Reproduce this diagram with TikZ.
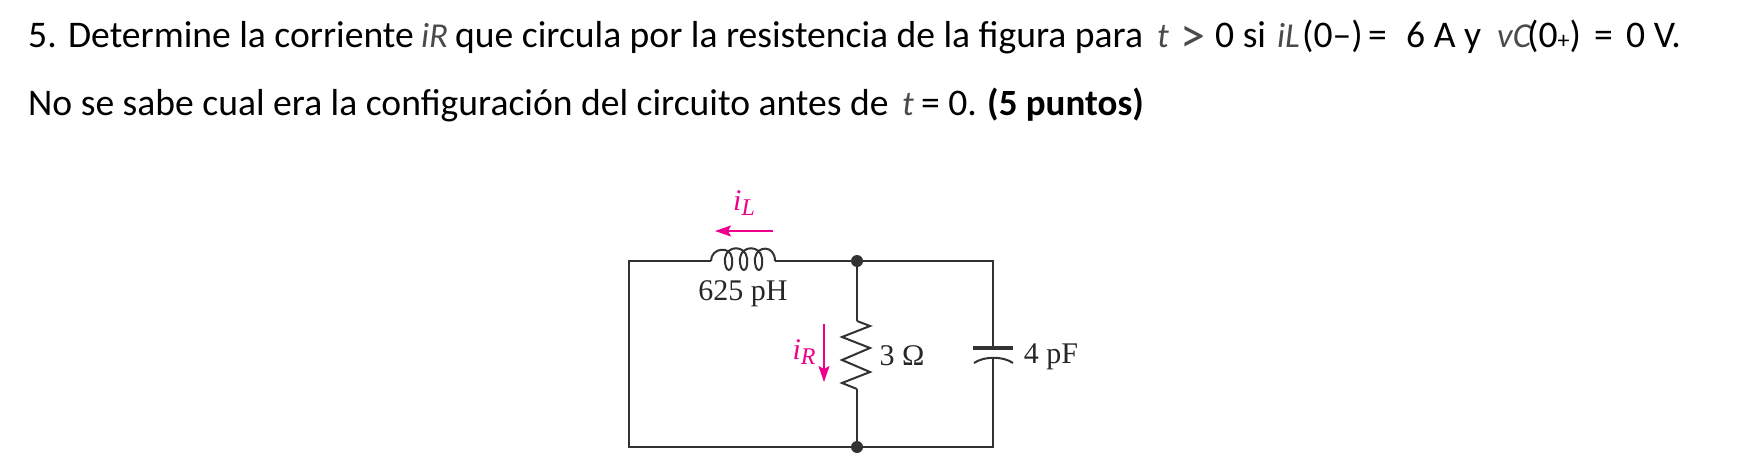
\documentclass[tikz,border=0pt]{standalone}
\usepackage{fontspec}
\setmainfont{Carlito}
\newfontfamily\bookfont{Liberation Serif}
\definecolor{pinkc}{RGB}{236,0,140}
\definecolor{wirec}{RGB}{50,50,50}
\definecolor{mathc}{RGB}{75,75,75}
\usetikzlibrary{arrows.meta}
\tikzset{
 x=1pt,y=-1pt,
 line1/.style={anchor=base west,inner sep=0pt,font=\fontsize{37.6}{40}\selectfont},
 line2/.style={anchor=base west,inner sep=0pt,font=\fontsize{37.6}{40}\selectfont},
 mathtxt/.style={anchor=base west,inner sep=0pt,text=mathc,font=\itshape\fontsize{35}{40}\selectfont},
 lab/.style={inner sep=0pt,font=\bookfont\fontsize{30}{32}\selectfont,text=black!85},
 cur/.style={inner sep=0pt,font=\bookfont\itshape\fontsize{30}{32}\selectfont,text=pinkc},
 wire/.style={draw=wirec,line width=2pt},
 carrow/.style={draw=pinkc,line width=1.6pt,-{Stealth[length=16pt,width=11pt,inset=3pt]}},
}
\begin{document}
\begin{tikzpicture}
\useasboundingbox (0,0) rectangle (1741,463);
\node[line1] (t1) at (28,47) {5. Determine la corriente};
\node[mathtxt] (ir) at (421,47) {iR};
\node[line1] (t1b) at (455,47) {que circula por la resistencia de la figura para};
\node[mathtxt] (t) at (1157,47) {t};
\node[mathtxt,font=\fontsize{50}{50}\selectfont] (gt) at (1180,52) {>};
\node[line1] (zs) at (1215,47) {0 si};
\node[mathtxt] (il) at (1277,47) {iL};
\node[line1] (t1c) at (1302,47) {(0–)};
\node[line1] (e1) at (1368,47) {=};
\node[line1] (t1e) at (1406,47) {6 A y};
\node[mathtxt] (vc) at (1497,47) {vC};
\node[line1] (t1d) at (1527,47) {(0\raisebox{-1pt}{\fontsize{24}{26}\selectfont +})};
\node[line1] (e2) at (1594,47) {=};
\node[line1] (t1f) at (1626,47) {0 V.};
\node[line2] (t2) at (28,115) {No se sabe cual era la configuración del circuito antes de};
\node[mathtxt] (t3) at (902,115) {t};
\node[line2] (t4) at (921,115) {= 0.};
\node[line2,font=\fontsize{37}{40}\selectfont] (t5) at (987,115) {\textbf{(5 puntos)}};

\coordinate (tl) at (629,261);
\coordinate (bl) at (629,447);
\coordinate (tr) at (993,261);
\coordinate (br) at (993,447);
\coordinate (la) at (711,261);
\coordinate (lb) at (775,261);
\coordinate (n1) at (857,261);
\coordinate (n2) at (857,447);
\coordinate (ra) at (857,321);
\coordinate (rb) at (857,389);
\coordinate (ca) at (993,347);
\coordinate (cb) at (993,358);
\draw[wire] (lb) -- (n1) -- (tr) -- (ca);
\draw[wire] (la) -- (tl) -- (bl) -- (n2) -- (br) -- (cb);
\draw[wire] (n1) -- (ra);
\draw[wire] (rb) -- (n2);
\draw[wire] (ra) -- (870,326) -- (842,337) -- (870,348) -- (842,360) -- (870,372) -- (842,383) -- (rb);
\draw[wire] (la) .. controls (711,248) and (730,245) .. (732,258) .. controls (734,274) and (724,274) .. (725,258) .. controls (727,245) and (745,245) .. (747,258) .. controls (749,274) and (739,274) .. (740,258) .. controls (742,245) and (760,245) .. (762,258) .. controls (764,274) and (754,274) .. (755,258) .. controls (757,245) and (775,245) .. (lb);
\fill[wirec] (n1) circle (6);
\fill[wirec] (n2) circle (6);
\coordinate (pa) at (973,348);
\coordinate (pb) at (1013,348);
\draw[draw=wirec,line width=3.2pt] (pa) -- (pb);
\coordinate (qa) at (974,363);
\coordinate (qb) at (1013,363);
\draw[wire] (qa) .. controls (984,356) and (1003,356) .. (qb);
\coordinate (ia) at (773,231);
\coordinate (ib) at (715,231);
\draw[carrow] (ia) -- (ib);
\coordinate (ja) at (824,324);
\coordinate (jb) at (824,382);
\draw[carrow] (ja) -- (jb);
\node[cur] (iL) at (744,203) {i\raisebox{-5pt}{\fontsize{24}{26}\selectfont L}};
\node[cur] (iR) at (804,352) {i\raisebox{-5pt}{\fontsize{24}{26}\selectfont R}};
\node[lab] (l1) at (743,294) {625 pH};
\node[lab] (l2) at (902,356) {3 Ω};
\node[lab] (l3) at (1051,357) {4 pF};
\end{tikzpicture}
\end{document}
